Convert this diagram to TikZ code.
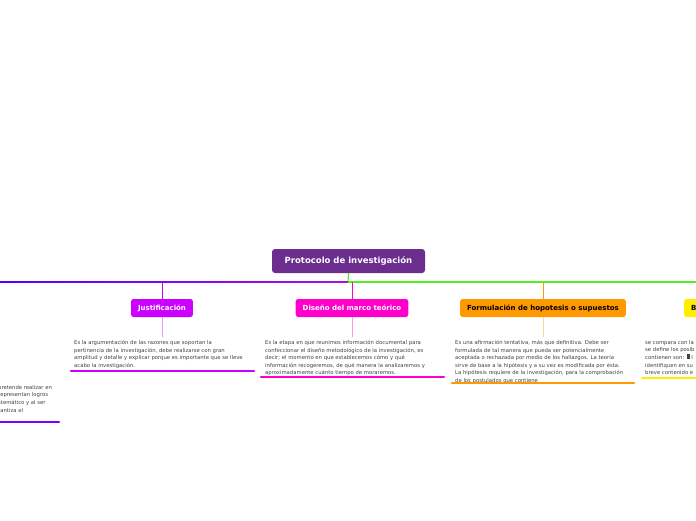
\documentclass[tikz,border=0pt]{standalone}
\usepackage{fontspec}
\setmainfont{DejaVu Sans}
\definecolor{titlepurple}{HTML}{6B2D8E}
\definecolor{justviolet}{HTML}{CC00FF}
\definecolor{disemag}{HTML}{FF00CC}
\definecolor{formorange}{HTML}{FF9900}
\definecolor{bigyellow}{HTML}{FFEE00}
\definecolor{leftviolet}{HTML}{7700FF}
\definecolor{branchgreen}{HTML}{55EE22}
\tikzset{
  topic/.style={rounded corners=2.5pt, minimum height=18pt, inner xsep=7pt, font=\fontsize{7}{7.5}\selectfont\bfseries},
  body/.style={anchor=north west, align=left, inner sep=0pt, text=black!75, font=\fontsize{5.3}{7.6}\selectfont},
  bar/.style={line width=2.6pt, line cap=round},
}
\begin{document}
\begin{tikzpicture}[x=1pt,y=-1pt]
  \useasboundingbox (0,0) rectangle (696,520);
  \clip (0,0) rectangle (696,520);
  % central topic
  \node[fill=titlepurple, text=white, rounded corners=3pt, minimum width=153pt, minimum height=24pt,
        font=\fontsize{8.5}{9}\selectfont\bfseries] (main) at (348.5,261) {Protocolo de investigación};
  \coordinate (hub) at (348,282);
  \draw[branchgreen, line width=1.2pt] (main.south) -- (hub);
  \shade[left color=leftviolet!70!blue, right color=justviolet!70!titlepurple] (0,281.3) rectangle (348,282.7);
  \draw[branchgreen, line width=1.4pt] (hub) -- (696,282);
  % Justificacion
  \node[topic, fill=justviolet, text=white] (just) at (162,308) {Justificación};
  \draw[justviolet, line width=1pt] (162,282) -- (just.north);
  \draw[justviolet!40, line width=1pt] (just.south) -- (162,337);
  \node[body] (justtxt) at (74,340) {Es la argumentación de las razones que soportan la\\pertinencia de la investigación, debe realizarse con gran\\amplitud y detalle y explicar porque es importante que se lleve\\acabo la investigación.};
  \draw[bar, justviolet] (71,371) -- (254,371);
  % Diseno
  \node[topic, fill=disemag, text=white] (dise) at (352,308) {Diseño del marco teórico};
  \draw[disemag, line width=1pt] (352,282) -- (dise.north);
  \draw[disemag!40, line width=1pt] (dise.south) -- (352,337);
  \node[body] (disetxt) at (265,340) {Es la etapa en que reunimos información documental para\\confeccionar el diseño metodológico de la investigación, es\\decir; el momento en que establecemos cómo y qué\\información recogeremos, de qué manera la analizaremos y\\aproximadamente cuánto tiempo de moraremos.};
  \draw[bar, disemag] (261,377) -- (444,377);
  % Formulacion
  \node[topic, fill=formorange, text=black] (form) at (543,308) {Formulación de hopotesis o supuestos};
  \draw[formorange, line width=1pt] (543,282) -- (form.north);
  \draw[formorange!40, line width=1pt] (form.south) -- (543,337);
  \node[body] (formtxt) at (455,340) {Es una afirmación tentativa, más que definitiva. Debe ser\\formulada de tal manera que pueda ser potencialmente\\aceptada o rechazada por medio de los hallazgos. La teoría\\sirve de base a la hipótesis y a su vez es modificada por ésta.\\La hipótesis requiere de la investigación, para la comprobación\\de los postulados que contiene};
  \draw[bar, formorange] (452,383) -- (634,383);
  % right branch (cut off)
  \node[topic, fill=bigyellow, text=black, anchor=west] (bib) at (684,308) {Bibliografía};
  \node[body] (bibtxt) at (645,340) {se compara con la\\se define los posib\\contienen son: \rule{3pt}{5pt} I\\identifiquen en su\\breve contenido e};
  \draw[bar, bigyellow] (642,378) -- (700,378);
  % left branch (cut off)
  \node[body] (lefttxt) at (-2,385) {pretende realizar en\\ representan logros\\stemático y al ser\\rantiza el};
  \draw[bar, leftviolet] (-5,422) -- (59,422);
\end{tikzpicture}
\end{document}
